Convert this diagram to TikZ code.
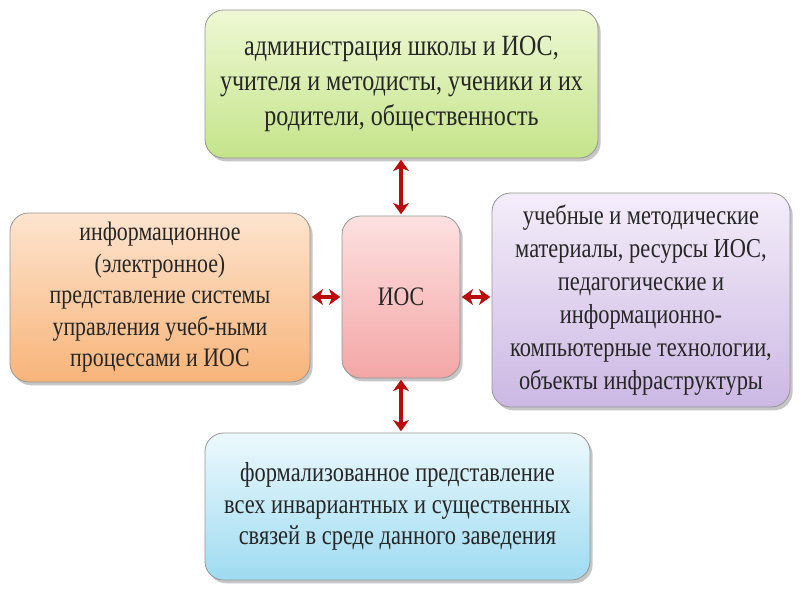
\documentclass[tikz,border=0pt]{standalone}
\usepackage{fontspec}
\setmainfont{Liberation Serif}[FakeStretch=0.82]
\usetikzlibrary{shadows,arrows.meta}
\definecolor{gtop}{RGB}{238,248,212}
\definecolor{gbot}{RGB}{196,228,138}
\definecolor{otop}{RGB}{253,228,206}
\definecolor{obot}{RGB}{248,180,122}
\definecolor{ptop}{RGB}{253,224,224}
\definecolor{pbot}{RGB}{244,166,166}
\definecolor{ltop}{RGB}{244,237,249}
\definecolor{lbot}{RGB}{204,184,228}
\definecolor{ctop}{RGB}{236,249,253}
\definecolor{cbot}{RGB}{158,219,241}
\definecolor{arr}{RGB}{185,12,12}
\definecolor{bordc}{RGB}{150,150,150}
\tikzset{
  box/.style={rounded corners=14pt, draw=bordc, line width=0.6pt, align=center,
    inner sep=0pt, text=black!85,
    drop shadow={opacity=0.45, shadow xshift=2pt, shadow yshift=-2.5pt}},
  link/.style={draw=arr, line width=2.6pt, shorten <=1pt, shorten >=1pt,
    {Stealth[length=8.5pt,width=12pt,inset=2.5pt]}-{Stealth[length=8.5pt,width=12pt,inset=2.5pt]}}
}
\begin{document}
\begin{tikzpicture}[x=0.75pt,y=-0.75pt]
\useasboundingbox (0,0) rectangle (800,600);
\node[box, top color=gtop, bottom color=gbot, minimum width=294.75pt, minimum height=111pt,
  font=\fontsize{22}{26.25}\selectfont] (top) at (401.5,84)
  {администрация школы и ИОС,\\учителя и методисты, ученики и их\\родители, общественность};
\node[box, top color=otop, bottom color=obot, minimum width=225pt, minimum height=126.75pt,
  font=\fontsize{20}{23.6}\selectfont] (left) at (160,297.5)
  {информационное\\(электронное)\\представление системы\\управления учеб-ными\\процессами и ИОС};
\node[box, top color=ptop, bottom color=pbot, minimum width=88.5pt, minimum height=121.5pt,
  font=\fontsize{20}{24}\selectfont] (ios) at (401,297) {ИОС};
\node[box, top color=ltop, bottom color=lbot, minimum width=223.5pt, minimum height=160.5pt,
  font=\fontsize{20.5}{24.7}\selectfont] (right) at (641,300)
  {учебные и методические\\материалы, ресурсы ИОС,\\педагогические и\\информационно-\\компьютерные технологии,\\объекты инфраструктуры};
\node[box, top color=ctop, bottom color=cbot, minimum width=288.75pt, minimum height=110.25pt,
  font=\fontsize{20.5}{23.5}\selectfont] (bot) at (397.5,506.5)
  {формализованное представление\\всех инвариантных и существенных\\связей в среде данного заведения};
\draw[link] (top.south -| ios.north) -- (ios.north);
\draw[link] (ios.south) -- (bot.north -| ios.south);
\draw[link] (left.east |- ios.west) -- (ios.west);
\draw[link] (ios.east) -- (right.west |- ios.east);
\end{tikzpicture}
\end{document}
